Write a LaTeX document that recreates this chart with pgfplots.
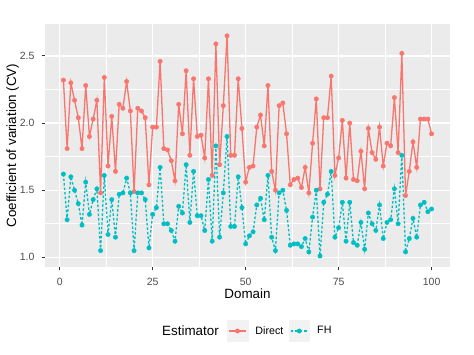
\documentclass[border=0pt]{standalone}
\usepackage{fontspec}
\setmainfont{Liberation Sans}
\usepackage{pgfplots}
\usepackage{pgfplotstable}
\pgfplotsset{compat=1.18}
\definecolor{dcol}{HTML}{F8766D}
\definecolor{fcol}{HTML}{00BFC4}
\definecolor{panelbg}{HTML}{EBEBEB}
\definecolor{keybg}{HTML}{F2F2F2}
\definecolor{tickcol}{HTML}{333333}
\definecolor{ticklab}{HTML}{4D4D4D}
\pgfplotstableread{
d direct fh
1 2.32 1.62
2 1.81 1.28
3 2.30 1.60
4 2.17 1.50
5 2.04 1.40
6 1.81 1.24
7 2.28 1.56
8 1.90 1.32
9 2.03 1.43
10 2.17 1.51
11 1.48 1.05
12 2.34 1.61
13 1.68 1.17
14 2.05 1.43
15 1.64 1.15
16 2.14 1.47
17 2.11 1.48
18 2.31 1.59
19 2.09 1.48
20 1.49 1.05
21 2.11 1.48
22 2.09 1.48
23 2.04 1.43
24 1.54 1.07
25 1.97 1.32
26 1.97 1.37
27 2.46 1.67
28 1.81 1.25
29 1.80 1.25
30 1.72 1.20
31 1.57 1.12
32 2.14 1.38
33 1.92 1.33
34 2.39 1.69
35 1.76 1.26
36 2.33 1.64
37 1.90 1.31
38 1.91 1.31
39 1.74 1.20
40 2.33 1.58
41 1.61 1.12
42 2.59 1.83
43 1.69 1.15
44 2.13 1.48
45 2.65 1.90
46 1.76 1.23
47 1.76 1.23
48 2.33 1.60
49 1.96 1.37
50 1.56 1.10
51 1.67 1.16
52 1.68 1.19
53 1.97 1.39
54 2.06 1.44
55 1.83 1.28
56 2.28 1.61
57 1.64 1.15
58 1.50 1.05
59 2.13 1.48
60 2.15 1.50
61 1.92 1.35
62 1.54 1.09
63 1.58 1.10
64 1.59 1.10
65 1.52 1.08
66 1.67 1.14
67 1.48 1.04
68 1.85 1.30
69 2.18 1.50
70 1.51 1.01
71 2.04 1.41
72 2.04 1.47
73 2.35 1.64
74 1.61 1.15
75 1.74 1.22
76 2.02 1.41
77 1.59 1.12
78 2.00 1.41
79 1.58 1.11
80 1.57 1.09
81 1.79 1.26
82 1.51 1.06
83 1.96 1.33
84 1.78 1.25
85 1.73 1.20
86 1.97 1.39
87 1.68 1.14
88 1.85 1.26
89 1.83 1.28
90 2.19 1.51
91 1.78 1.25
92 2.52 1.76
93 1.46 1.04
94 1.64 1.14
95 1.86 1.29
96 1.67 1.15
97 2.03 1.39
98 2.03 1.41
99 2.03 1.34
100 1.92 1.36
}\cvdata
\begin{document}
\begin{tikzpicture}
\path[use as bounding box] (-45pt,-88pt) rectangle (429pt,267pt);
\begin{axis}[
  at={(0pt,0pt)}, anchor=south west,
  scale only axis, width=405pt, height=243pt,
  xmin=-3.95, xmax=104.95, ymin=0.928, ymax=2.738,
  xtick={0,25,50,75,100}, xticklabels={0,25,50,75,100},
  minor xtick={12.5,37.5,62.5,87.5},
  ytick={1,1.5,2,2.5}, yticklabels={1.0,1.5,2.0,2.5},
  minor ytick={1.25,1.75,2.25},
  grid=both,
  major grid style={white, line width=1.3pt},
  minor grid style={white, line width=0.65pt},
  axis background/.style={fill=panelbg},
  axis line style={draw=none},
  tick align=outside, tick pos=left,
  major tick length=3.4pt, minor tick length=0pt,
  tick style={draw=tickcol, line width=1.1pt},
  minor tick style={draw=none},
  tick label style={font=\fontsize{10.5}{12}\selectfont, text=ticklab},
  xticklabel style={anchor=base, inner sep=0pt, yshift=-15pt},
  yticklabel style={anchor=east, inner sep=0pt, xshift=-7pt},
  xlabel={Domain}, ylabel={Coefficient of variation (CV)},
  label style={font=\fontsize{13.4}{15}\selectfont, text=black},
  xlabel style={at={(axis description cs:0.5,-0.1305)}, anchor=base},
  ylabel style={at={(axis description cs:-0.0716,0.5)}, anchor=base, rotate=0},
  legend style={at={(axis description cs:0.4494,-0.2634)}, anchor=west,
    draw=none, fill=none, inner sep=0pt, outer sep=0pt,
    font=\fontsize{10.7}{12}\selectfont,
    /tikz/every odd column/.append style={column sep=5.5pt},
    /tikz/every even column/.append style={column sep=3.5pt}},
  legend columns=-1,
]
\addplot[dcol, line width=1.3pt, mark=none, forget plot] table[x=d, y=direct] {\cvdata};
\addplot[fcol, line width=1.3pt, dash pattern=on 2.5pt off 2pt, mark=none, forget plot] table[x=d, y=fh] {\cvdata};
\addplot[dcol, only marks, mark=*, mark size=2.2pt,
  legend image code/.code={
    \fill[keybg] (0pt,-10.5pt) rectangle (20.5pt,10.5pt);
    \draw[dcol, line width=1.3pt] (1.5pt,0pt) -- (19pt,0pt);
    \draw[dcol, only marks, mark=*, mark size=2.2pt] plot coordinates {(10.25pt,0pt)};
  }] table[x=d, y=direct] {\cvdata};
\addlegendentry{Direct}
\addplot[fcol, only marks, mark=*, mark size=2.2pt,
  legend image code/.code={
    \fill[keybg] (0pt,-10.5pt) rectangle (20.5pt,10.5pt);
    \draw[fcol, line width=1.3pt, dash pattern=on 2.5pt off 2pt] (1.5pt,0pt) -- (19pt,0pt);
    \draw[fcol, only marks, mark=*, mark size=2.2pt] plot coordinates {(10.25pt,0pt)};
  }] table[x=d, y=fh] {\cvdata};
\addlegendentry{FH}
\end{axis}
\node[anchor=base east, inner sep=0pt, font=\fontsize{13.4}{15}\selectfont] at (174pt,-69pt) {Estimator};
\end{tikzpicture}
\end{document}
